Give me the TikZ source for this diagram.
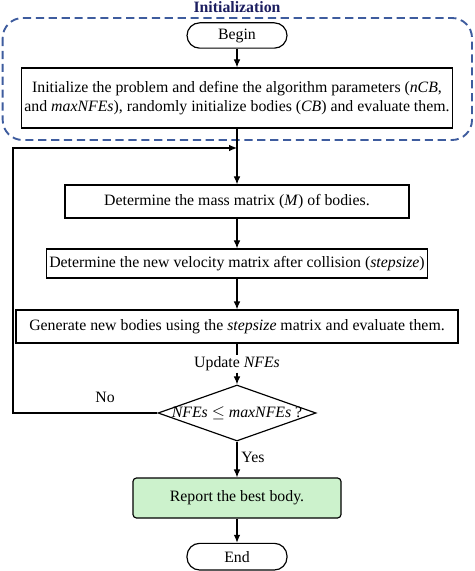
\documentclass[tikz,border=0pt]{standalone}
\usepackage{fontspec}
\setmainfont{Liberation Serif}
\usepackage{xcolor}
\usetikzlibrary{positioning,arrows.meta,shapes.geometric}
\definecolor{InitBlue}{RGB}{62,92,158}
\definecolor{TitleNavy}{RGB}{28,30,96}
\definecolor{ReportGreen}{RGB}{204,242,204}

\begin{document}
\begin{tikzpicture}[
  font=\fontsize{13.5}{16}\selectfont,
  terminal/.style={draw, line width=1pt, rounded corners=0.38cm, minimum width=3.0cm, minimum height=0.76cm, inner sep=2pt},
  process/.style={draw, line width=1pt, minimum height=0.99cm, align=center, inner sep=2pt},
  decision/.style={draw, line width=1pt, diamond, aspect=2.8, inner xsep=-0.35cm, inner ysep=0pt, minimum width=4.74cm, minimum height=1.68cm},
  report/.style={draw, line width=1pt, fill=ReportGreen, rounded corners=3pt, minimum width=6.24cm, minimum height=1.2cm},
  arrow/.style={-{Latex[length=2.4mm,width=2mm]}, line width=1pt},
  initframe/.style={draw=InitBlue, line width=1.6pt, dash pattern=on 7pt off 4pt, rounded corners=0.6cm}
]
\useasboundingbox (0,0) rectangle (14.22,-17.13);

% Initialization frame
\draw[initframe] (0.08,-0.54) rectangle (14.16,-4.2);
\node[font=\fontsize{13.5}{16}\selectfont\bfseries, text=TitleNavy] (title) at (7.11,-0.22) {Initialization};

% Main column
\node[terminal] (begin) at (7.11,-1.065) {Begin};
\node[process, minimum width=12.93cm, minimum height=1.8cm] (init) at (7.11,-2.94) {Initialize the problem and define the algorithm parameters (\textit{nCB},\\and \textit{maxNFEs}), randomly initialize bodies (\textit{CB}) and evaluate them.};
\node[process, minimum width=10.32cm] (mass) at (7.11,-6.045) {Determine the mass matrix (\textit{M}) of bodies.};
\node[process, minimum width=11.43cm, minimum height=0.87cm] (velo) at (7.11,-7.905) {Determine the new velocity matrix after collision (\textit{stepsize})};
\node[process, minimum width=13.26cm] (gen) at (7.11,-9.795) {Generate new bodies using the \textit{stepsize} matrix and evaluate them.};
\node[inner sep=1pt] (upd) at (7.11,-10.92) {Update \textit{NFEs}};
\node[decision] (check) at (7.11,-12.39) {\textit{NFEs} $\le$ \textit{maxNFEs} ?};
\node[report] (best) at (7.11,-14.94) {Report the best body.};
\node[terminal, minimum height=0.8cm] (end) at (7.11,-16.7) {End};

% Loop points
\coordinate (merge) at (7.11,-4.44);
\coordinate (loopc) at (0.39,-4.44);

% Arrows
\draw[arrow] (begin) -- (init);
\draw[arrow] (init) -- (mass);
\draw[arrow] (mass) -- (velo);
\draw[arrow] (velo) -- (gen);
\draw[line width=1pt] (gen) -- (upd);
\draw[arrow] (upd) -- (check);
\draw[arrow] (check) -- node[right, pos=0.45] {Yes} (best);
\draw[arrow] (best) -- (end);
\draw[arrow] (check.west) -- (check.west -| loopc) -- (loopc) -- (merge);
\node (no) at (3.15,-11.93) {No};
\end{tikzpicture}
\end{document}
